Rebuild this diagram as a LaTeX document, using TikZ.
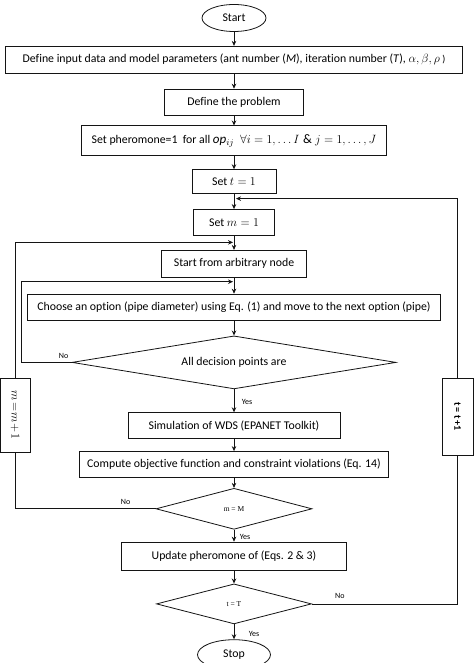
\documentclass[tikz,border=0pt]{standalone}
\usepackage{fontspec}
\setmainfont{Carlito}[Ligatures=NoCommon]
\newfontfamily\eqfont{Liberation Serif}
\usepackage{xcolor}
\definecolor{fcInk}{RGB}{20,20,20}
\definecolor{fcPaper}{RGB}{255,255,255}
\usetikzlibrary{positioning,arrows.meta,shapes.geometric}

\begin{document}
\begin{tikzpicture}[x=1pt,y=1pt,
  b/.style={draw=fcInk,fill=fcPaper,line width=0.8pt,minimum height=26pt,inner sep=2pt,font=\fontsize{11.8}{13}\selectfont},
  d/.style={diamond,aspect=3,draw=fcInk,fill=fcPaper,line width=0.8pt,inner sep=0pt,font=\fontsize{11.8}{13}\selectfont},
  e/.style={ellipse,draw=fcInk,fill=fcPaper,line width=0.8pt,inner sep=0pt,font=\fontsize{11.8}{13}\selectfont},
  lbl/.style={inner sep=0pt,font=\fontsize{8}{9}\selectfont},
  a/.style={-{Stealth[length=5pt,width=4.5pt]},fcInk,line width=0.8pt}]
  \useasboundingbox (0,0) rectangle (474,-663);
  \node[e,minimum width=64pt,minimum height=27pt] (start) at (234,-18) {Start};
  \node[b,minimum width=457pt,minimum height=27pt,below=14pt of start] (input) {Define input data and model parameters (ant number (\textit{M}), iteration number (\textit{T}), \large$\alpha,\beta,\rho$\normalsize\ )};
  \node[b,minimum width=139pt,below=15pt of input] (prob) {Define the problem};
  \node[b,minimum width=305pt,minimum height=30pt,below=10pt of prob] (init) {Set pheromone=1\ \ for all \fontsize{13}{14}\selectfont$\mathit{op}_{ij}$\ \ $\forall i=1,\ldots I\;\&\;j=1,\ldots,J$};
  \node[b,minimum width=84pt,minimum height=24pt,below=13pt of init] (sett) {Set \large$t=1$};
  \node[b,minimum width=81pt,below=15pt of sett] (setm) {Set \large$m=1$};
  \node[b,minimum width=145pt,minimum height=27pt,below=14pt of setm] (node0) {Start from arbitrary node};
  \node[b,minimum width=413pt,below=16pt of node0] (choose) {Choose an option (pipe diameter) using Eq. (1) and move to the next option (pipe)};
  \node[d,minimum width=324pt,minimum height=53pt,below=15pt of choose] (alldec) {All decision points are};
  \node[b,minimum width=212pt,below=23pt of alldec] (sim) {Simulation of WDS (EPANET Toolkit)};
  \node[b,minimum width=309pt,below=12pt of sim] (obj) {Compute objective function and constraint violations (Eq. 14)};
  \node[d,minimum width=156pt,minimum height=41pt,below=10pt of obj,font=\eqfont\fontsize{7.5}{9}\selectfont] (mM) {m = M};
  \node[b,minimum width=225pt,minimum height=28pt,below=12pt of mM] (upd) {Update pheromone of (Eqs. 2 \& 3)};
  \node[d,minimum width=155pt,minimum height=40pt,below=13pt of upd,font=\eqfont\fontsize{7.5}{9}\selectfont] (tT) {t = T};
  \node[e,minimum width=73pt,minimum height=30pt,below=15pt of tT] (stop) {Stop};

  % counter boxes on the return lines
  \node[b,minimum width=30pt,minimum height=74pt] (incm) at (15,-415) {\rotatebox{-90}{$m\!=\!m\!+\!1$}};
  \node[b,minimum width=31pt,minimum height=77pt] (inct) at (457.5,-416.5) {\rotatebox{-90}{\bfseries\fontsize{10}{12}\selectfont t = t +1}};

  % junctions where the loops come back
  \coordinate (jt) at ([yshift=-4.5pt]sett.south);
  \coordinate (jm) at ([yshift=-6.5pt]setm.south);
  \coordinate (jc) at ([yshift=-4pt]node0.south);

  \draw[a] (start) -- (input);
  \draw[a] (input) -- (prob);
  \draw[a] (prob) -- (init);
  \draw[a] (init) -- (sett);
  \draw[a] (sett) -- (setm);
  \draw[a] (setm) -- (node0);
  \draw[a] (node0) -- (choose);
  \draw[a] (choose) -- (alldec);
  \draw[a] (alldec) -- (sim);
  \draw[a] (sim) -- (obj);
  \draw[a] (obj) -- (mM);
  \draw[a] (mM) -- (upd);
  \draw[a] (upd) -- (tT);
  \draw[a] (tT) -- (stop);

  \draw[a] (alldec.west) -- ++(-50pt,0) |- ([xshift=-1pt]jc);
  \draw[fcInk,line width=0.8pt] (mM.west) -| (incm.south);
  \draw[a] (incm.north) |- ([xshift=-1pt]jm);
  \draw[fcInk,line width=0.8pt] (tT.east) -| (inct.south);
  \draw[a] (inct.north) |- ([xshift=2pt]jt);

  \node[lbl] (no1) at ([xshift=-8pt,yshift=6pt]alldec.west) {No};
  \node[lbl] (yes1) at ([xshift=13pt,yshift=-13pt]alldec.south) {Yes};
  \node[lbl] (no2) at ([xshift=-30pt,yshift=7pt]mM.west) {No};
  \node[lbl] (yes2) at ([xshift=11pt,yshift=-7pt]mM.south) {Yes};
  \node[lbl] (no3) at ([xshift=28pt,yshift=8pt]tT.east) {No};
  \node[lbl] (yes3) at ([xshift=20pt,yshift=-10pt]tT.south) {Yes};
\end{tikzpicture}
\end{document}
